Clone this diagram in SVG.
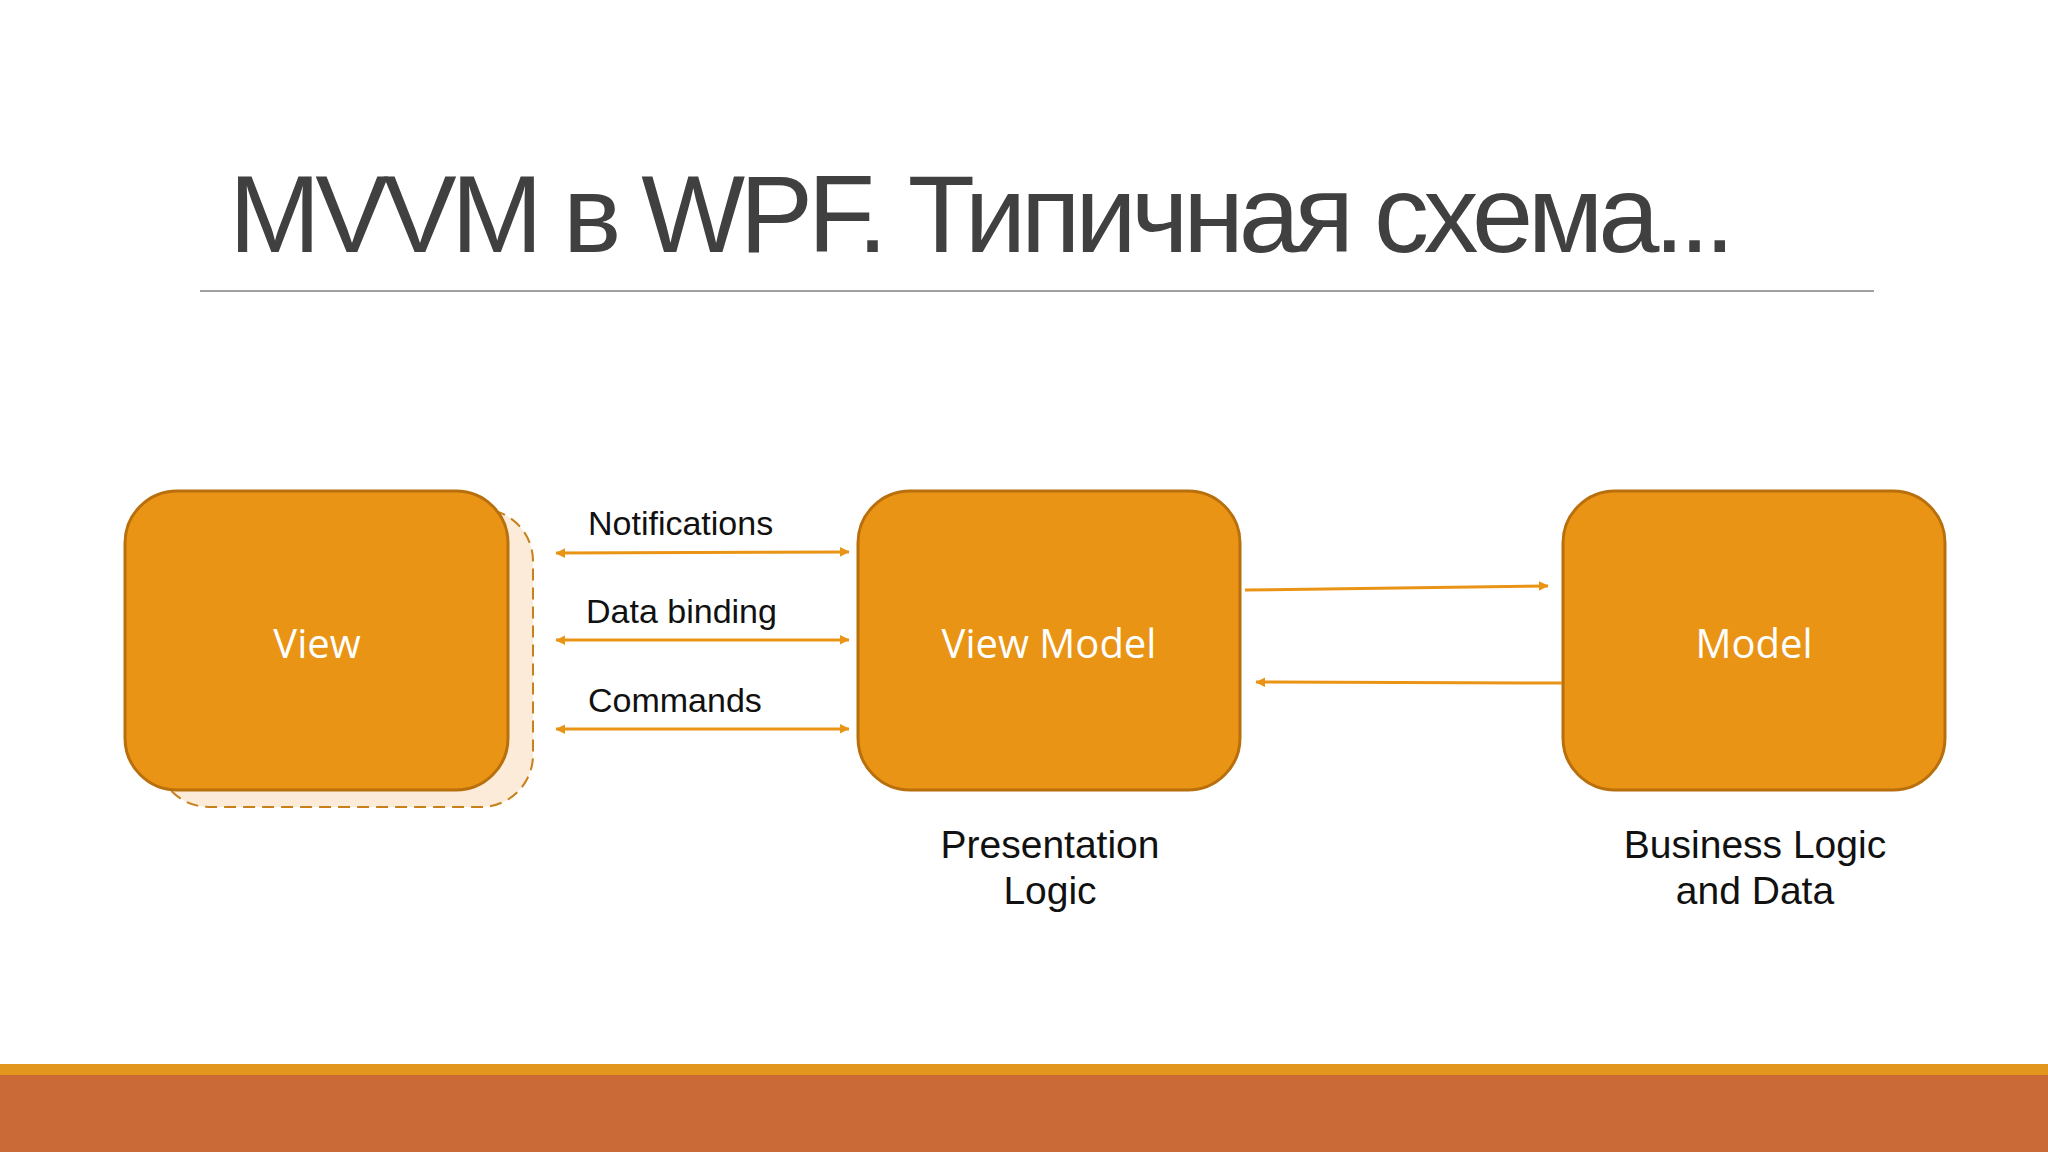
<svg xmlns="http://www.w3.org/2000/svg" width="2048" height="1152" viewBox="0 0 2048 1152">
<style>
.node{fill:#E99415;stroke:#B86F0C;stroke-width:3}
.nt{font-family:"Open Sans","Liberation Sans",sans-serif;font-size:40px;fill:#fff;text-anchor:middle}
.lbl{font-family:"Liberation Sans",sans-serif;font-size:34px;fill:#111}
.cap{font-family:"Liberation Sans",sans-serif;font-size:39px;fill:#111;text-anchor:middle}
.ar{stroke:#E99415;stroke-width:3;fill:none}
</style>
<defs>
<marker id="ah" markerWidth="10" markerHeight="10" refX="9" refY="5" orient="auto-start-reverse" markerUnits="userSpaceOnUse"><path d="M0,0 L10,5 L0,10 z" fill="#E99415" transform="scale(1.6) translate(-4,-2)"/></marker>
</defs>
<rect width="2048" height="1152" fill="#fff"/>
<text x="229" y="252" font-family="Liberation Sans,sans-serif" font-size="110" fill="#404040" textLength="1506">MVVM в WPF. Типичная схема...</text>
<line x1="200" y1="291" x2="1874" y2="291" stroke="#a0a0a0" stroke-width="2"/>
<g id="view-shadow"><rect x="157" y="509" width="376" height="298" rx="52" fill="#FBEBD8" stroke="#C7801A" stroke-width="2" stroke-dasharray="12,7"/></g>
<g id="view"><rect class="node" x="125" y="491" width="383" height="299" rx="52"/><text class="nt" x="317" y="658">View</text></g>
<g id="viewmodel"><rect class="node" x="858" y="491" width="382" height="299" rx="52"/><text class="nt" x="1049" y="658">View Model</text></g>
<g id="model"><rect class="node" x="1563" y="491" width="382" height="299" rx="52"/><text class="nt" x="1754" y="658">Model</text></g>
<g id="connectors">
<line class="ar" x1="556" y1="553" x2="849" y2="552" marker-start="url(#ah)" marker-end="url(#ah)"/>
<line class="ar" x1="556" y1="640" x2="849" y2="640" marker-start="url(#ah)" marker-end="url(#ah)"/>
<line class="ar" x1="556" y1="729" x2="849" y2="729" marker-start="url(#ah)" marker-end="url(#ah)"/>
<line class="ar" x1="1245" y1="590" x2="1548" y2="586" marker-end="url(#ah)"/>
<line class="ar" x1="1562" y1="683" x2="1256" y2="682" marker-end="url(#ah)"/>
<text class="lbl" x="588" y="535">Notifications</text>
<text class="lbl" x="586" y="623">Data binding</text>
<text class="lbl" x="588" y="712">Commands</text>
</g>
<text class="cap" x="1050" y="858">Presentation</text>
<text class="cap" x="1050" y="904">Logic</text>
<text class="cap" x="1755" y="858">Business Logic</text>
<text class="cap" x="1755" y="904">and Data</text>
<rect x="0" y="1064" width="2048" height="11" fill="#E2961E"/>
<rect x="0" y="1075" width="2048" height="77" fill="#C96A37"/>
</svg>
